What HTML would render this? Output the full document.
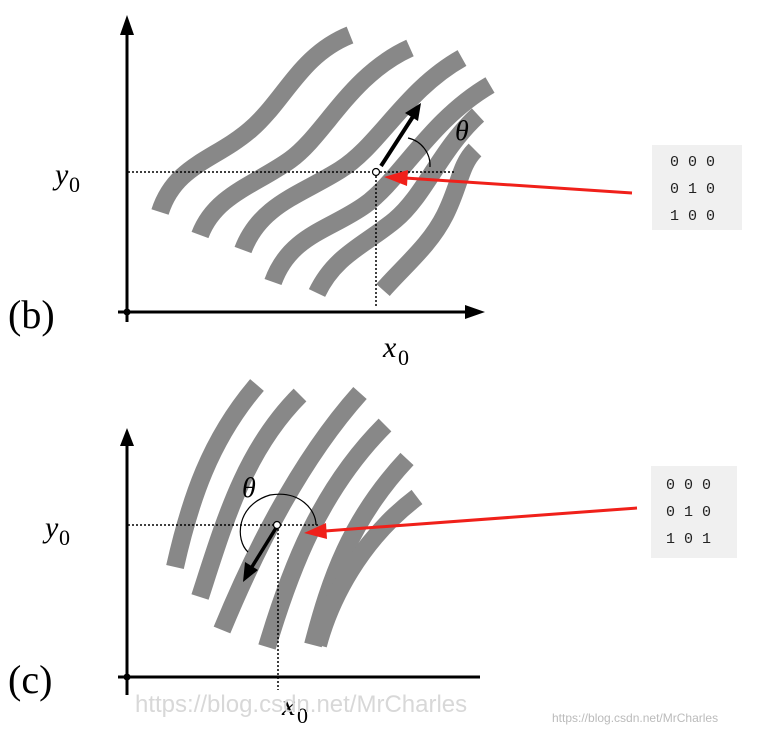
<!DOCTYPE html>
<html><head><meta charset="utf-8"><style>
body{margin:0;background:#fff;width:778px;height:736px;overflow:hidden}
.m{position:absolute;background:#f0f0f0;font-family:"Liberation Mono",monospace;font-size:15px;color:#222;line-height:27px;white-space:pre;padding-left:18px;padding-top:4px;box-sizing:border-box}
</style></head><body>
<svg width="778" height="736" style="position:absolute;left:0;top:0" font-family="Liberation Serif, serif">
<g stroke="#888" stroke-width="18" fill="none" stroke-linecap="butt">
<path d="M160,212 C175,165 215,160 250,130 S300,55 350,35"/>
<path d="M200,235 C215,195 255,185 290,160 S350,75 410,48"/>
<path d="M243,250 C260,205 300,195 340,170 S405,90 462,58"/>
<path d="M273,282 C290,235 330,230 365,205 S430,120 490,85"/>
<path d="M317,293 C335,255 365,245 395,220 S440,150 478,115"/>
<path d="M383,290 C405,265 430,245 445,215 S460,165 475,150"/>
</g>
<g stroke="#888" stroke-width="18" fill="none">
<path d="M175,567 C190,500 210,440 257,385"/>
<path d="M200,597 C225,520 245,450 300,395"/>
<path d="M222,630 C255,550 300,460 360,393"/>
<path d="M267,647 C290,570 320,490 385,425"/>
<path d="M313,645 C330,580 350,520 407,459"/>
<path d="M318,645 C330,600 360,540 417,497"/>
</g>
<g stroke="#000" stroke-width="3" fill="none">
<line x1="127" y1="30" x2="127" y2="322"/>
<line x1="118" y1="312" x2="472" y2="312"/>
<line x1="127" y1="440" x2="127" y2="695"/>
<line x1="118" y1="677" x2="480" y2="677"/>
</g>
<path d="M127,15 L120,35 L134,35z" fill="#000"/>
<path d="M485,312 L465,305 L465,319z" fill="#000"/>
<path d="M127,428 L120,446 L134,446z" fill="#000"/>
<circle cx="127" cy="312" r="3.5" fill="#000"/><circle cx="127" cy="677" r="3.5" fill="#000"/>
<g stroke="#000" stroke-width="1.5" stroke-dasharray="2,2" fill="none">
<line x1="128" y1="172" x2="455" y2="172"/>
<line x1="376" y1="172" x2="376" y2="307"/>
<line x1="128" y1="525" x2="318" y2="525"/>
<line x1="278" y1="525" x2="278" y2="690"/>
</g>
<line x1="381" y1="166" x2="414" y2="115" stroke="#000" stroke-width="4"/>
<path d="M421,103 L405,113 L418,121z" fill="#000"/>
<path d="M408,138 A28,28 0 0 1 430,167" stroke="#000" stroke-width="1.2" fill="none"/>
<line x1="276" y1="528" x2="250" y2="570" stroke="#000" stroke-width="3.5"/>
<path d="M243,582 L245,562 L258,570z" fill="#000"/>
<path d="M248,552 C235,540 236,505 270,495 C300,490 316,510 316,525" stroke="#000" stroke-width="1.2" fill="none"/>
<circle cx="376" cy="172" r="3.5" fill="#fff" stroke="#000" stroke-width="1.2"/>
<circle cx="277" cy="525" r="3.5" fill="#fff" stroke="#000" stroke-width="1.2"/>
<line x1="632" y1="193" x2="405" y2="178" stroke="#f0201a" stroke-width="3"/>
<path d="M384,177 L408,170 L407,186z" fill="#f0201a"/>
<line x1="637" y1="508" x2="325" y2="531" stroke="#f0201a" stroke-width="3"/>
<path d="M304,533 L326,523 L327,539z" fill="#f0201a"/>
<text x="55" y="184" font-size="30" font-style="italic">y</text><text x="69" y="192" font-size="22">0</text>
<text x="8" y="328" font-size="40">(b)</text>
<text x="383" y="357" font-size="30" font-style="italic">x</text><text x="398" y="365" font-size="22">0</text>
<text x="455" y="140" font-size="28" font-style="italic">θ</text>
<text x="242" y="497" font-size="28" font-style="italic">θ</text>
<text x="45" y="537" font-size="30" font-style="italic">y</text><text x="59" y="545" font-size="22">0</text>
<text x="8" y="693" font-size="40">(c)</text>
<text x="282" y="715" font-size="30" font-style="italic">x</text><text x="297" y="723" font-size="22">0</text>
<text x="135" y="712" font-size="24" fill="#d8d8d8" font-family="Liberation Sans, sans-serif">https://blog.csdn.net/MrCharles</text>
<text x="552" y="722" font-size="12" fill="#bbb" font-family="Liberation Sans, sans-serif">https://blog.csdn.net/MrCharles</text>
</svg>
<div class="m" style="left:652px;top:145px;width:90px;height:85px">0 0 0
0 1 0
1 0 0</div>
<div class="m" style="left:651px;top:466px;width:86px;height:92px;padding-left:15px;padding-top:6px">0 0 0
0 1 0
1 0 1</div>
</body></html>
